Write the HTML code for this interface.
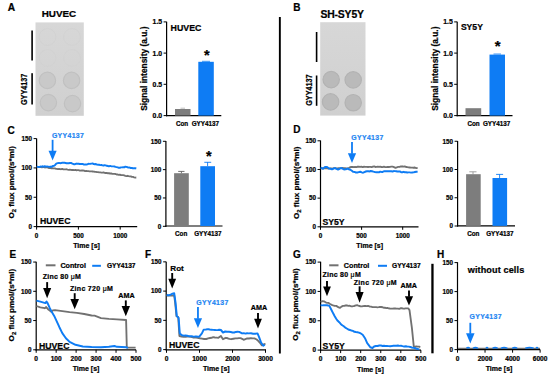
<!DOCTYPE html>
<html><head><meta charset="utf-8"><style>
html,body{margin:0;padding:0;background:#fff;width:550px;height:376px;overflow:hidden}
svg{display:block;font-family:"Liberation Sans", sans-serif}
text{stroke-width:0.22px}
</style></head><body>
<svg width="550" height="376" viewBox="0 0 550 376">
<defs><filter id="bl" x="-50%" y="-50%" width="200%" height="200%"><feGaussianBlur stdDeviation="0.65"/></filter>
<linearGradient id="blotg" x1="0" y1="0" x2="0" y2="1"><stop offset="0" stop-color="#d7d7d7"/><stop offset="1" stop-color="#d0d0d0"/></linearGradient></defs>
<rect width="550" height="376" fill="#fff"/>
<text x="7.8" y="11.2" font-size="10.2" text-anchor="start" fill="#000" stroke="#000" font-weight="bold">A</text>
<text x="41.8" y="17.3" font-size="9.9" text-anchor="start" fill="#000" stroke="#000" font-weight="bold" letter-spacing="-0.08">HUVEC</text>
<rect x="35.5" y="22.4" width="48.3" height="93.4" fill="url(#blotg)"/>
<circle cx="47.4" cy="80.4" r="8.2" fill="#c9c9c9" stroke="#c1c1c1" stroke-width="1.2" filter="url(#bl)"/>
<circle cx="71.6" cy="80.4" r="8.2" fill="#c9c9c9" stroke="#c1c1c1" stroke-width="1.2" filter="url(#bl)"/>
<circle cx="48.4" cy="102.6" r="8.2" fill="#c9c9c9" stroke="#c1c1c1" stroke-width="1.2" filter="url(#bl)"/>
<circle cx="72.5" cy="103.6" r="8.2" fill="#c9c9c9" stroke="#c1c1c1" stroke-width="1.2" filter="url(#bl)"/>
<circle cx="47.5" cy="37" r="8.4" fill="none" stroke="#d0d0d0" stroke-width="0.8" filter="url(#bl)"/>
<circle cx="72" cy="37" r="8.4" fill="none" stroke="#d0d0d0" stroke-width="0.8" filter="url(#bl)"/>
<circle cx="47.5" cy="58" r="8.4" fill="none" stroke="#d0d0d0" stroke-width="0.8" filter="url(#bl)"/>
<circle cx="72" cy="58" r="8.4" fill="none" stroke="#d0d0d0" stroke-width="0.8" filter="url(#bl)"/>
<rect x="31.3" y="30.5" width="1.6" height="30" fill="#000"/>
<rect x="31.3" y="73.2" width="1.6" height="31.3" fill="#000"/>
<text transform="translate(26.6 105) rotate(-90) scale(0.86 1)" font-size="8.4" font-weight="bold" stroke="#000">GYY4137</text>
<line x1="166.6" y1="21.7" x2="166.6" y2="116.19999999999999" stroke="#000" stroke-width="1.2" stroke-linecap="butt"/>
<line x1="163.6" y1="21.9" x2="166.6" y2="21.9" stroke="#000" stroke-width="1.0" stroke-linecap="butt"/>
<text x="162.2" y="24.370199999999997" font-size="6.9" text-anchor="end" fill="#000" stroke="#000" font-weight="bold">1.5</text>
<line x1="163.6" y1="53.1" x2="166.6" y2="53.1" stroke="#000" stroke-width="1.0" stroke-linecap="butt"/>
<text x="162.2" y="55.5702" font-size="6.9" text-anchor="end" fill="#000" stroke="#000" font-weight="bold">1.0</text>
<line x1="163.6" y1="84.3" x2="166.6" y2="84.3" stroke="#000" stroke-width="1.0" stroke-linecap="butt"/>
<text x="162.2" y="86.7702" font-size="6.9" text-anchor="end" fill="#000" stroke="#000" font-weight="bold">0.5</text>
<line x1="163.6" y1="115.6" x2="166.6" y2="115.6" stroke="#000" stroke-width="1.0" stroke-linecap="butt"/>
<text x="162.2" y="118.0702" font-size="6.9" text-anchor="end" fill="#000" stroke="#000" font-weight="bold">0.0</text>
<line x1="166.0" y1="115.6" x2="221.3" y2="115.6" stroke="#000" stroke-width="1.2" stroke-linecap="butt"/>
<text x="170.6" y="30.7" font-size="8.8" text-anchor="start" fill="#000" stroke="#000" font-weight="bold">HUVEC</text>
<rect x="175" y="109" width="15.5" height="6.6" fill="#7d7d7d"/>
<line x1="180.5" y1="108.2" x2="185" y2="108.2" stroke="#b0b0b0" stroke-width="0.8" stroke-linecap="butt"/>
<rect x="198.3" y="61.8" width="15.5" height="53.8" fill="#0e7cf4"/>
<line x1="202" y1="61.3" x2="210" y2="61.3" stroke="#0e7cf4" stroke-width="0.8" stroke-linecap="butt"/>
<text x="206.8" y="59.9" font-size="14.5" text-anchor="middle" fill="#000" stroke="#000" font-weight="bold">*</text>
<text x="182.1" y="125.8" font-size="6.3" text-anchor="middle" fill="#000" stroke="#000" font-weight="bold">Con</text>
<text x="205.3" y="125.8" font-size="6.3" text-anchor="middle" fill="#000" stroke="#000" font-weight="bold">GYY4137</text>
<text x="147.0" y="110.8" font-size="8.4" text-anchor="start" fill="#000" stroke="#000" font-weight="bold" transform="rotate(-90 147.0 110.8)">Signal intensity (a.u.)</text>
<rect x="278.9" y="17" width="1.9" height="336.5" fill="#000"/>
<text x="293.2" y="11.3" font-size="10" text-anchor="start" fill="#000" stroke="#000" font-weight="bold">B</text>
<text x="320.4" y="17.6" font-size="10.4" text-anchor="start" fill="#000" stroke="#000" font-weight="bold" letter-spacing="-0.15">SH-SY5Y</text>
<rect x="320.2" y="22.2" width="45.3" height="93.4" fill="url(#blotg)"/>
<circle cx="331.2" cy="79.6" r="8.2" fill="#bababa" stroke="#b3b3b3" stroke-width="1.2" filter="url(#bl)"/>
<circle cx="353.2" cy="79.9" r="8.2" fill="#bababa" stroke="#b3b3b3" stroke-width="1.2" filter="url(#bl)"/>
<circle cx="330.6" cy="101.9" r="8.2" fill="#bababa" stroke="#b3b3b3" stroke-width="1.2" filter="url(#bl)"/>
<circle cx="353.2" cy="102.7" r="8.2" fill="#bababa" stroke="#b3b3b3" stroke-width="1.2" filter="url(#bl)"/>
<rect x="315.8" y="32" width="1.6" height="30" fill="#000"/>
<rect x="315.8" y="75.5" width="1.6" height="30.3" fill="#000"/>
<text transform="translate(312.3 105.8) rotate(-90) scale(0.86 1)" font-size="8.4" font-weight="bold" stroke="#000">GYY4137</text>
<line x1="457.2" y1="21.7" x2="457.2" y2="116.19999999999999" stroke="#000" stroke-width="1.2" stroke-linecap="butt"/>
<line x1="454.2" y1="21.9" x2="457.2" y2="21.9" stroke="#000" stroke-width="1.0" stroke-linecap="butt"/>
<text x="452.8" y="24.370199999999997" font-size="6.9" text-anchor="end" fill="#000" stroke="#000" font-weight="bold">1.5</text>
<line x1="454.2" y1="53.1" x2="457.2" y2="53.1" stroke="#000" stroke-width="1.0" stroke-linecap="butt"/>
<text x="452.8" y="55.5702" font-size="6.9" text-anchor="end" fill="#000" stroke="#000" font-weight="bold">1.0</text>
<line x1="454.2" y1="84.3" x2="457.2" y2="84.3" stroke="#000" stroke-width="1.0" stroke-linecap="butt"/>
<text x="452.8" y="86.7702" font-size="6.9" text-anchor="end" fill="#000" stroke="#000" font-weight="bold">0.5</text>
<line x1="454.2" y1="115.6" x2="457.2" y2="115.6" stroke="#000" stroke-width="1.0" stroke-linecap="butt"/>
<text x="452.8" y="118.0702" font-size="6.9" text-anchor="end" fill="#000" stroke="#000" font-weight="bold">0.0</text>
<line x1="456.59999999999997" y1="115.6" x2="512.5" y2="115.6" stroke="#000" stroke-width="1.2" stroke-linecap="butt"/>
<text x="460.9" y="30.1" font-size="8.6" text-anchor="start" fill="#000" stroke="#000" font-weight="bold">SY5Y</text>
<rect x="465.5" y="108.2" width="15.7" height="7.4" fill="#7d7d7d"/>
<rect x="489.5" y="54.6" width="15.5" height="61" fill="#0e7cf4"/>
<line x1="493.5" y1="54" x2="501" y2="54" stroke="#0e7cf4" stroke-width="0.8" stroke-linecap="butt"/>
<text x="497.6" y="51.0" font-size="15" text-anchor="middle" fill="#000" stroke="#000" font-weight="bold">*</text>
<text x="473.6" y="126.0" font-size="6.3" text-anchor="middle" fill="#000" stroke="#000" font-weight="bold">Con</text>
<text x="496.6" y="126.0" font-size="6.3" text-anchor="middle" fill="#000" stroke="#000" font-weight="bold">GYY4137</text>
<text x="437.8" y="110.8" font-size="8.4" text-anchor="start" fill="#000" stroke="#000" font-weight="bold" transform="rotate(-90 437.8 110.8)">Signal intensity (a.u.)</text>
<text x="7.6" y="133.6" font-size="10" text-anchor="start" fill="#000" stroke="#000" font-weight="bold">C</text>
<line x1="36.6" y1="138.5" x2="36.6" y2="227.2" stroke="#000" stroke-width="1.2" stroke-linecap="butt"/>
<line x1="33.6" y1="138.595" x2="36.6" y2="138.595" stroke="#000" stroke-width="1.0" stroke-linecap="butt"/>
<text x="32.0" y="140.8504" font-size="6.3" text-anchor="end" fill="#000" stroke="#000" font-weight="bold">150</text>
<line x1="33.6" y1="167.93" x2="36.6" y2="167.93" stroke="#000" stroke-width="1.0" stroke-linecap="butt"/>
<text x="32.0" y="170.18540000000002" font-size="6.3" text-anchor="end" fill="#000" stroke="#000" font-weight="bold">100</text>
<line x1="33.6" y1="197.265" x2="36.6" y2="197.265" stroke="#000" stroke-width="1.0" stroke-linecap="butt"/>
<text x="32.0" y="199.5204" font-size="6.3" text-anchor="end" fill="#000" stroke="#000" font-weight="bold">50</text>
<line x1="33.6" y1="226.6" x2="36.6" y2="226.6" stroke="#000" stroke-width="1.0" stroke-linecap="butt"/>
<text x="32.0" y="228.8554" font-size="6.3" text-anchor="end" fill="#000" stroke="#000" font-weight="bold">0</text>
<line x1="36.0" y1="226.6" x2="137.2" y2="226.6" stroke="#000" stroke-width="1.2" stroke-linecap="butt"/>
<line x1="36.6" y1="226.6" x2="36.6" y2="229.6" stroke="#000" stroke-width="1.0" stroke-linecap="butt"/>
<text x="36.6" y="237.5" font-size="6.3" text-anchor="middle" fill="#000" stroke="#000" font-weight="bold">0</text>
<line x1="78.4" y1="226.6" x2="78.4" y2="229.6" stroke="#000" stroke-width="1.0" stroke-linecap="butt"/>
<text x="78.4" y="237.5" font-size="6.3" text-anchor="middle" fill="#000" stroke="#000" font-weight="bold">500</text>
<line x1="120.19999999999999" y1="226.6" x2="120.19999999999999" y2="229.6" stroke="#000" stroke-width="1.0" stroke-linecap="butt"/>
<text x="120.19999999999999" y="237.5" font-size="6.3" text-anchor="middle" fill="#000" stroke="#000" font-weight="bold">1000</text>
<text x="86.5" y="248.0" font-size="7.0" text-anchor="middle" fill="#000" stroke="#000" font-weight="bold">Time [s]</text>
<text x="40" y="224.4" font-size="8.7" text-anchor="start" fill="#000" stroke="#000" font-weight="bold">HUVEC</text>
<text x="14.0" y="218.6" font-size="8.1" font-weight="bold" stroke="#000" transform="rotate(-90 14.0 218.6)">O<tspan font-size="5.83" dy="2.27">2</tspan><tspan dy="-2.27"> flux pmol/(s*ml)</tspan></text>
<text x="51.9" y="137.5" font-size="6.9" text-anchor="start" fill="#1f86f2" stroke="#1f86f2" font-weight="bold" letter-spacing="0.35">GYY4137</text>
<path d="M52.6,139.8 L52.6,151.3" stroke="#0e7cf4" stroke-width="1.8" fill="none" stroke-linejoin="round"/>
<path d="M48.550000000000004,150.8 L56.65,150.8 L52.6,160.5 Z" fill="#0e7cf4"/>
<path d="M36.80,166.90 L37.81,166.82 L38.82,167.03 L39.83,167.00 L40.84,167.17 L41.86,167.24 L42.87,167.02 L43.88,167.05 L44.89,167.51 L45.90,167.40 L46.99,167.42 L48.08,167.55 L49.17,168.07 L50.26,167.95 L51.35,168.27 L52.44,168.23 L53.53,168.45 L54.62,168.35 L55.71,168.73 L56.80,168.80 L57.89,169.06 L58.98,168.97 L60.07,169.16 L61.16,169.21 L62.25,168.98 L63.34,169.41 L64.43,169.41 L65.52,169.34 L66.61,169.29 L67.70,169.60 L68.79,169.84 L69.88,169.71 L70.97,169.89 L72.06,170.03 L73.15,170.01 L74.24,170.17 L75.33,169.97 L76.42,170.23 L77.51,170.11 L78.60,170.20 L79.69,170.53 L80.78,170.61 L81.87,170.33 L82.96,170.46 L84.05,170.61 L85.14,171.09 L86.23,170.94 L87.32,171.14 L88.41,171.09 L89.50,171.30 L90.57,171.39 L91.63,171.41 L92.70,171.48 L93.77,171.68 L94.83,171.76 L95.90,171.80 L96.99,172.11 L98.08,172.11 L99.17,172.34 L100.26,172.42 L101.35,172.60 L102.44,172.55 L103.53,172.40 L104.62,172.86 L105.71,173.02 L106.80,172.90 L107.89,173.26 L108.98,173.25 L110.07,173.49 L111.16,173.40 L112.25,173.87 L113.34,173.90 L114.43,173.91 L115.52,173.96 L116.61,174.52 L117.70,174.50 L118.79,174.91 L119.88,174.63 L120.97,175.16 L122.06,175.14 L123.15,175.18 L124.24,175.42 L125.33,175.82 L126.42,176.05 L127.51,175.80 L128.60,176.20 L129.70,176.44 L130.80,176.34 L131.90,176.87 L133.00,176.86 L134.10,177.32 L135.20,177.55 L136.30,177.50" stroke="#717171" stroke-width="1.85" fill="none" stroke-linejoin="round"/>
<path d="M36.80,166.90 L37.97,166.83 L39.15,167.10 L40.33,166.54 L41.50,166.60 L42.60,166.30 L43.70,166.67 L44.80,166.27 L45.90,166.60 L47.00,166.45 L48.10,166.66 L49.20,166.86 L50.30,166.60 L51.40,166.90 L52.75,166.03 L54.10,165.80 L55.20,164.96 L56.30,163.60 L57.65,163.12 L59.00,162.90 L60.10,163.17 L61.20,163.08 L62.30,162.66 L63.40,162.70 L64.47,162.82 L65.55,163.01 L66.62,163.25 L67.70,163.30 L68.80,163.23 L69.90,163.07 L71.00,162.90 L72.35,163.63 L73.70,164.20 L75.05,164.21 L76.40,163.60 L77.50,163.70 L78.60,163.75 L79.70,164.05 L80.80,164.00 L81.90,163.92 L83.00,164.06 L84.10,164.63 L85.20,164.41 L86.30,164.50 L87.34,164.35 L88.38,163.80 L89.42,163.90 L90.46,163.84 L91.50,163.60 L92.60,163.45 L93.70,164.05 L94.80,164.24 L95.90,164.03 L97.00,164.61 L98.10,164.70 L99.19,164.81 L100.27,165.10 L101.36,165.01 L102.45,165.39 L103.54,165.55 L104.62,165.19 L105.71,165.35 L106.80,165.80 L107.90,166.02 L109.00,166.32 L110.10,165.93 L111.20,166.17 L112.30,166.36 L113.40,166.40 L114.48,166.55 L115.56,166.86 L116.64,167.11 L117.72,167.43 L118.80,167.80 L119.90,167.73 L121.00,167.39 L122.10,167.40 L123.17,167.19 L124.25,167.34 L125.33,166.69 L126.40,166.90 L127.50,167.22 L128.60,167.61 L129.70,167.59 L130.80,168.00 L131.90,167.91 L133.00,168.41 L134.10,168.12 L135.20,168.18 L136.30,168.50" stroke="#0e7cf4" stroke-width="1.95" fill="none" stroke-linejoin="round"/>
<line x1="165.9" y1="140.89999999999998" x2="165.9" y2="226.9" stroke="#000" stroke-width="1.2" stroke-linecap="butt"/>
<line x1="162.9" y1="141.29500000000002" x2="165.9" y2="141.29500000000002" stroke="#000" stroke-width="1.0" stroke-linecap="butt"/>
<text x="161.3" y="143.55040000000002" font-size="6.3" text-anchor="end" fill="#000" stroke="#000" font-weight="bold">150</text>
<line x1="162.9" y1="169.63" x2="165.9" y2="169.63" stroke="#000" stroke-width="1.0" stroke-linecap="butt"/>
<text x="161.3" y="171.8854" font-size="6.3" text-anchor="end" fill="#000" stroke="#000" font-weight="bold">100</text>
<line x1="162.9" y1="197.965" x2="165.9" y2="197.965" stroke="#000" stroke-width="1.0" stroke-linecap="butt"/>
<text x="161.3" y="200.2204" font-size="6.3" text-anchor="end" fill="#000" stroke="#000" font-weight="bold">50</text>
<line x1="162.9" y1="226.3" x2="165.9" y2="226.3" stroke="#000" stroke-width="1.0" stroke-linecap="butt"/>
<text x="161.3" y="228.55540000000002" font-size="6.3" text-anchor="end" fill="#000" stroke="#000" font-weight="bold">0</text>
<line x1="165.3" y1="226.0" x2="222.5" y2="226.0" stroke="#000" stroke-width="1.2" stroke-linecap="butt"/>
<rect x="174.1" y="173.2" width="14.7" height="52.8" fill="#7d7d7d"/>
<line x1="181.4" y1="171.4" x2="181.4" y2="173.2" stroke="#606060" stroke-width="0.9" stroke-linecap="butt"/>
<line x1="178.2" y1="171.4" x2="184.5" y2="171.4" stroke="#606060" stroke-width="0.9" stroke-linecap="butt"/>
<rect x="200.3" y="166.2" width="14.7" height="59.8" fill="#0e7cf4"/>
<line x1="207.6" y1="162.1" x2="207.6" y2="166.2" stroke="#0e7cf4" stroke-width="0.9" stroke-linecap="butt"/>
<line x1="204.3" y1="162.3" x2="211.2" y2="162.3" stroke="#0e7cf4" stroke-width="0.9" stroke-linecap="butt"/>
<text x="208.8" y="161.2" font-size="14.5" text-anchor="middle" fill="#000" stroke="#000" font-weight="bold">*</text>
<text x="181.2" y="236.2" font-size="6.3" text-anchor="middle" fill="#000" stroke="#000" font-weight="bold">Con</text>
<text x="207.8" y="236.2" font-size="6.3" text-anchor="middle" fill="#000" stroke="#000" font-weight="bold">GYY4137</text>
<text x="293.2" y="133.2" font-size="10" text-anchor="start" fill="#000" stroke="#000" font-weight="bold">D</text>
<line x1="320.5" y1="140.5" x2="320.5" y2="227.4" stroke="#000" stroke-width="1.2" stroke-linecap="butt"/>
<line x1="317.5" y1="140.805" x2="320.5" y2="140.805" stroke="#000" stroke-width="1.0" stroke-linecap="butt"/>
<text x="315.9" y="143.06040000000002" font-size="6.3" text-anchor="end" fill="#000" stroke="#000" font-weight="bold">150</text>
<line x1="317.5" y1="169.47" x2="320.5" y2="169.47" stroke="#000" stroke-width="1.0" stroke-linecap="butt"/>
<text x="315.9" y="171.7254" font-size="6.3" text-anchor="end" fill="#000" stroke="#000" font-weight="bold">100</text>
<line x1="317.5" y1="198.13500000000002" x2="320.5" y2="198.13500000000002" stroke="#000" stroke-width="1.0" stroke-linecap="butt"/>
<text x="315.9" y="200.39040000000003" font-size="6.3" text-anchor="end" fill="#000" stroke="#000" font-weight="bold">50</text>
<line x1="317.5" y1="226.8" x2="320.5" y2="226.8" stroke="#000" stroke-width="1.0" stroke-linecap="butt"/>
<text x="315.9" y="229.05540000000002" font-size="6.3" text-anchor="end" fill="#000" stroke="#000" font-weight="bold">0</text>
<line x1="319.9" y1="226.8" x2="418.5" y2="226.8" stroke="#000" stroke-width="1.2" stroke-linecap="butt"/>
<line x1="320.5" y1="226.8" x2="320.5" y2="229.8" stroke="#000" stroke-width="1.0" stroke-linecap="butt"/>
<text x="320.5" y="237.70000000000002" font-size="6.3" text-anchor="middle" fill="#000" stroke="#000" font-weight="bold">0</text>
<line x1="361.6" y1="226.8" x2="361.6" y2="229.8" stroke="#000" stroke-width="1.0" stroke-linecap="butt"/>
<text x="361.6" y="237.70000000000002" font-size="6.3" text-anchor="middle" fill="#000" stroke="#000" font-weight="bold">500</text>
<line x1="402.7" y1="226.8" x2="402.7" y2="229.8" stroke="#000" stroke-width="1.0" stroke-linecap="butt"/>
<text x="402.7" y="237.70000000000002" font-size="6.3" text-anchor="middle" fill="#000" stroke="#000" font-weight="bold">1000</text>
<text x="369.7" y="248.0" font-size="7.0" text-anchor="middle" fill="#000" stroke="#000" font-weight="bold">Time [s]</text>
<text x="322.4" y="224.9" font-size="8.7" text-anchor="start" fill="#000" stroke="#000" font-weight="bold">SY5Y</text>
<text x="298.5" y="219.0" font-size="8.1" font-weight="bold" stroke="#000" transform="rotate(-90 298.5 219.0)">O<tspan font-size="5.83" dy="2.27">2</tspan><tspan dy="-2.27"> flux pmol/(s*ml)</tspan></text>
<text x="351.3" y="140" font-size="6.9" text-anchor="start" fill="#1f86f2" stroke="#1f86f2" font-weight="bold" letter-spacing="0.35">GYY4137</text>
<path d="M352.0,142.1 L352.0,153.70000000000002" stroke="#0e7cf4" stroke-width="1.8" fill="none" stroke-linejoin="round"/>
<path d="M347.9,153.20000000000002 L356.1,153.20000000000002 L352.0,162.9 Z" fill="#0e7cf4"/>
<path d="M320.70,168.30 L322.03,168.28 L323.36,168.45 L324.69,168.10 L326.01,168.25 L327.34,168.27 L328.67,168.59 L330.00,168.40 L331.25,168.34 L332.50,168.56 L333.75,168.13 L335.00,168.20 L336.25,168.37 L337.50,168.48 L338.75,168.20 L340.00,168.20 L341.23,168.05 L342.47,168.01 L343.70,168.27 L344.93,168.08 L346.17,168.47 L347.40,168.30 L348.73,168.07 L350.07,167.24 L351.40,167.00 L352.63,166.84 L353.86,167.13 L355.09,167.00 L356.31,167.07 L357.54,166.76 L358.77,166.61 L360.00,166.80 L361.33,166.71 L362.67,167.04 L364.00,166.76 L365.33,166.84 L366.67,166.92 L368.00,167.00 L369.23,166.90 L370.45,166.85 L371.68,167.10 L372.90,166.59 L374.12,166.45 L375.35,166.97 L376.57,166.88 L377.80,166.60 L379.03,166.94 L380.25,166.66 L381.48,167.02 L382.70,167.06 L383.93,166.68 L385.15,167.05 L386.38,167.15 L387.60,167.00 L388.83,167.00 L390.05,166.81 L391.27,166.57 L392.50,166.60 L394.00,167.10 L395.50,167.80 L396.86,167.34 L398.22,166.94 L399.58,166.95 L400.94,166.47 L402.30,166.30 L403.54,166.65 L404.77,166.35 L406.01,167.03 L407.25,167.07 L408.49,167.37 L409.73,167.51 L410.96,167.68 L412.20,167.60 L413.55,167.75 L414.90,167.51 L416.25,168.05 L417.60,168.00" stroke="#717171" stroke-width="1.85" fill="none" stroke-linejoin="round"/>
<path d="M320.70,167.50 L323.00,168.80 L325.00,167.00 L327.00,166.90 L329.00,168.60 L330.50,168.72 L332.00,169.30 L333.50,168.56 L335.00,168.10 L336.50,168.96 L338.00,169.60 L339.50,168.82 L341.00,168.00 L342.50,168.69 L344.00,169.50 L345.70,169.36 L347.40,168.60 L348.90,169.23 L350.40,169.70 L351.85,170.69 L353.30,171.90 L354.63,171.93 L355.97,172.55 L357.30,172.50 L358.75,172.08 L360.20,171.70 L361.65,172.40 L363.10,172.70 L364.43,172.10 L365.77,171.49 L367.10,171.20 L368.33,171.22 L369.55,171.42 L370.77,170.97 L372.00,171.20 L373.45,171.65 L374.90,172.00 L376.35,172.16 L377.80,172.20 L379.03,172.30 L380.25,171.61 L381.48,171.92 L382.70,171.95 L383.93,171.26 L385.15,171.29 L386.38,171.16 L387.60,171.20 L388.83,171.26 L390.05,171.22 L391.27,171.29 L392.50,171.54 L393.73,171.04 L394.95,171.11 L396.17,171.20 L397.40,171.50 L398.64,171.36 L399.88,171.45 L401.11,172.21 L402.35,172.25 L403.59,171.84 L404.82,172.25 L406.06,172.25 L407.30,172.50 L408.52,172.37 L409.75,172.40 L410.98,172.60 L412.20,172.50 L413.55,172.36 L414.90,172.00 L416.25,171.68 L417.60,171.70" stroke="#0e7cf4" stroke-width="1.95" fill="none" stroke-linejoin="round"/>
<line x1="457.6" y1="140.89999999999998" x2="457.6" y2="226.6" stroke="#000" stroke-width="1.2" stroke-linecap="butt"/>
<line x1="454.6" y1="141.25" x2="457.6" y2="141.25" stroke="#000" stroke-width="1.0" stroke-linecap="butt"/>
<text x="453.0" y="143.5054" font-size="6.3" text-anchor="end" fill="#000" stroke="#000" font-weight="bold">150</text>
<line x1="454.6" y1="169.5" x2="457.6" y2="169.5" stroke="#000" stroke-width="1.0" stroke-linecap="butt"/>
<text x="453.0" y="171.7554" font-size="6.3" text-anchor="end" fill="#000" stroke="#000" font-weight="bold">100</text>
<line x1="454.6" y1="197.75" x2="457.6" y2="197.75" stroke="#000" stroke-width="1.0" stroke-linecap="butt"/>
<text x="453.0" y="200.0054" font-size="6.3" text-anchor="end" fill="#000" stroke="#000" font-weight="bold">50</text>
<line x1="454.6" y1="226.0" x2="457.6" y2="226.0" stroke="#000" stroke-width="1.0" stroke-linecap="butt"/>
<text x="453.0" y="228.2554" font-size="6.3" text-anchor="end" fill="#000" stroke="#000" font-weight="bold">0</text>
<line x1="457.0" y1="225.9" x2="515" y2="225.9" stroke="#000" stroke-width="1.2" stroke-linecap="butt"/>
<rect x="466.1" y="174.2" width="14.6" height="51.7" fill="#7d7d7d"/>
<line x1="473.0" y1="171.8" x2="473.0" y2="174.2" stroke="#8a8a8a" stroke-width="0.8" stroke-linecap="butt"/>
<line x1="469.3" y1="171.8" x2="476.5" y2="171.8" stroke="#8a8a8a" stroke-width="0.8" stroke-linecap="butt"/>
<rect x="492.5" y="178.0" width="14.6" height="47.9" fill="#0e7cf4"/>
<line x1="499.6" y1="174.4" x2="499.6" y2="178" stroke="#0e7cf4" stroke-width="0.9" stroke-linecap="butt"/>
<line x1="496.1" y1="174.4" x2="503.1" y2="174.4" stroke="#0e7cf4" stroke-width="0.9" stroke-linecap="butt"/>
<text x="473.3" y="236.2" font-size="6.3" text-anchor="middle" fill="#000" stroke="#000" font-weight="bold">Con</text>
<text x="499.8" y="236.2" font-size="6.3" text-anchor="middle" fill="#000" stroke="#000" font-weight="bold">GYY4137</text>
<text x="9.5" y="257.6" font-size="10" text-anchor="start" fill="#000" stroke="#000" font-weight="bold">E</text>
<line x1="36.2" y1="261.7" x2="36.2" y2="350.40000000000003" stroke="#000" stroke-width="1.2" stroke-linecap="butt"/>
<line x1="33.2" y1="262.05" x2="36.2" y2="262.05" stroke="#000" stroke-width="1.0" stroke-linecap="butt"/>
<text x="31.6" y="264.3054" font-size="6.3" text-anchor="end" fill="#000" stroke="#000" font-weight="bold">150</text>
<line x1="33.2" y1="291.3" x2="36.2" y2="291.3" stroke="#000" stroke-width="1.0" stroke-linecap="butt"/>
<text x="31.6" y="293.5554" font-size="6.3" text-anchor="end" fill="#000" stroke="#000" font-weight="bold">100</text>
<line x1="33.2" y1="320.55" x2="36.2" y2="320.55" stroke="#000" stroke-width="1.0" stroke-linecap="butt"/>
<text x="31.6" y="322.8054" font-size="6.3" text-anchor="end" fill="#000" stroke="#000" font-weight="bold">50</text>
<line x1="33.2" y1="349.8" x2="36.2" y2="349.8" stroke="#000" stroke-width="1.0" stroke-linecap="butt"/>
<text x="31.6" y="352.0554" font-size="6.3" text-anchor="end" fill="#000" stroke="#000" font-weight="bold">0</text>
<line x1="35.6" y1="349.8" x2="136.0" y2="349.8" stroke="#000" stroke-width="1.2" stroke-linecap="butt"/>
<line x1="36.2" y1="349.8" x2="36.2" y2="352.8" stroke="#000" stroke-width="1.0" stroke-linecap="butt"/>
<text x="36.2" y="361.0" font-size="6.6" text-anchor="middle" fill="#000" stroke="#000" font-weight="bold">0</text>
<line x1="56.160000000000004" y1="349.8" x2="56.160000000000004" y2="352.8" stroke="#000" stroke-width="1.0" stroke-linecap="butt"/>
<text x="56.160000000000004" y="361.0" font-size="6.6" text-anchor="middle" fill="#000" stroke="#000" font-weight="bold">100</text>
<line x1="76.12" y1="349.8" x2="76.12" y2="352.8" stroke="#000" stroke-width="1.0" stroke-linecap="butt"/>
<text x="76.12" y="361.0" font-size="6.6" text-anchor="middle" fill="#000" stroke="#000" font-weight="bold">200</text>
<line x1="96.08000000000001" y1="349.8" x2="96.08000000000001" y2="352.8" stroke="#000" stroke-width="1.0" stroke-linecap="butt"/>
<text x="96.08000000000001" y="361.0" font-size="6.6" text-anchor="middle" fill="#000" stroke="#000" font-weight="bold">300</text>
<line x1="116.04" y1="349.8" x2="116.04" y2="352.8" stroke="#000" stroke-width="1.0" stroke-linecap="butt"/>
<text x="116.04" y="361.0" font-size="6.6" text-anchor="middle" fill="#000" stroke="#000" font-weight="bold">400</text>
<line x1="136.0" y1="349.8" x2="136.0" y2="352.8" stroke="#000" stroke-width="1.0" stroke-linecap="butt"/>
<text x="136.0" y="361.0" font-size="6.6" text-anchor="middle" fill="#000" stroke="#000" font-weight="bold">500</text>
<text x="86.0" y="371.4" font-size="7.0" text-anchor="middle" fill="#000" stroke="#000" font-weight="bold">Time [s]</text>
<text x="39.0" y="348.5" font-size="8.7" text-anchor="start" fill="#000" stroke="#000" font-weight="bold">HUVEC</text>
<text x="13.9" y="341.4" font-size="8.1" font-weight="bold" stroke="#000" transform="rotate(-90 13.9 341.4)">O<tspan font-size="5.83" dy="2.27">2</tspan><tspan dy="-2.27"> flux pmol/(s*ml)</tspan></text>
<line x1="45.8" y1="265.3" x2="55.5" y2="265.3" stroke="#717171" stroke-width="2.0" stroke-linecap="butt"/>
<text x="60.4" y="267.6" font-size="7.2" text-anchor="start" fill="#000" stroke="#000" font-weight="bold">Control</text>
<line x1="92.2" y1="265.8" x2="100.9" y2="265.8" stroke="#0e7cf4" stroke-width="2.0" stroke-linecap="butt"/>
<text x="106.9" y="268.3" font-size="6.6" text-anchor="start" fill="#000" stroke="#000" font-weight="bold">GYY4137</text>
<text x="42.7" y="279.0" font-size="7.0" text-anchor="start" fill="#000" stroke="#000" font-weight="bold" letter-spacing="0.25">Zinc 80 <tspan font-weight="normal">μ</tspan>M</text>
<path d="M47.15,282.1 L47.15,288.4" stroke="#000" stroke-width="1.9" fill="none" stroke-linejoin="round"/>
<path d="M43.1,287.9 L51.199999999999996,287.9 L47.15,298.2 Z" fill="#000"/>
<text x="70" y="291.1" font-size="7.0" text-anchor="start" fill="#000" stroke="#000" font-weight="bold" letter-spacing="0.3">Zinc 720 <tspan font-weight="normal">μ</tspan>M</text>
<path d="M74.7,293.2 L74.7,299.6" stroke="#000" stroke-width="1.9" fill="none" stroke-linejoin="round"/>
<path d="M70.4,299.1 L79.0,299.1 L74.7,309.3 Z" fill="#000"/>
<text x="126.4" y="297.6" font-size="7.2" text-anchor="middle" fill="#000" stroke="#000" font-weight="bold">AMA</text>
<path d="M125.8,300.4 L125.8,306.4" stroke="#000" stroke-width="1.9" fill="none" stroke-linejoin="round"/>
<path d="M121.6,305.9 L130.0,305.9 L125.8,316.2 Z" fill="#000"/>
<path d="M36.40,306.00 L40.30,307.40 L44.70,308.20 L46.20,307.00 L48.40,309.60 L51.30,311.80 L52.80,310.40 L55.00,310.10 L62.30,311.10 L69.60,312.10 L76.90,312.90 L84.20,314.00 L91.60,315.50 L94.60,315.70 L101.00,318.10 L108.90,318.90 L116.90,319.40 L126.10,320.00 L126.80,347.60 L135.60,347.60" stroke="#717171" stroke-width="1.85" fill="none" stroke-linejoin="round"/>
<path d="M36.40,300.60 L40.30,301.60 L45.40,303.10 L46.50,301.60 L47.60,303.10 L49.80,308.20 L52.00,312.30 L54.20,315.90 L56.40,320.60 L59.40,327.20 L62.30,333.10 L65.90,338.20 L69.60,341.90 L75.50,344.80 L82.80,346.50 L91.60,347.00 L101.00,347.20 L108.90,346.80 L114.50,346.00 L116.90,346.80 L126.50,347.30 L128.00,347.80" stroke="#0e7cf4" stroke-width="1.95" fill="none" stroke-linejoin="round"/>
<text x="145.0" y="258.0" font-size="10" text-anchor="start" fill="#000" stroke="#000" font-weight="bold">F</text>
<line x1="166.2" y1="261.7" x2="166.2" y2="350.20000000000005" stroke="#000" stroke-width="1.2" stroke-linecap="butt"/>
<line x1="163.2" y1="261.85" x2="166.2" y2="261.85" stroke="#000" stroke-width="1.0" stroke-linecap="butt"/>
<text x="161.6" y="264.10540000000003" font-size="6.3" text-anchor="end" fill="#000" stroke="#000" font-weight="bold">150</text>
<line x1="163.2" y1="291.1" x2="166.2" y2="291.1" stroke="#000" stroke-width="1.0" stroke-linecap="butt"/>
<text x="161.6" y="293.35540000000003" font-size="6.3" text-anchor="end" fill="#000" stroke="#000" font-weight="bold">100</text>
<line x1="163.2" y1="320.35" x2="166.2" y2="320.35" stroke="#000" stroke-width="1.0" stroke-linecap="butt"/>
<text x="161.6" y="322.60540000000003" font-size="6.3" text-anchor="end" fill="#000" stroke="#000" font-weight="bold">50</text>
<line x1="163.2" y1="349.6" x2="166.2" y2="349.6" stroke="#000" stroke-width="1.0" stroke-linecap="butt"/>
<text x="161.6" y="351.85540000000003" font-size="6.3" text-anchor="end" fill="#000" stroke="#000" font-weight="bold">0</text>
<line x1="165.6" y1="349.8" x2="266.0" y2="349.8" stroke="#000" stroke-width="1.2" stroke-linecap="butt"/>
<line x1="166.5" y1="349.8" x2="166.5" y2="352.8" stroke="#000" stroke-width="1.0" stroke-linecap="butt"/>
<text x="166.5" y="361.0" font-size="6.6" text-anchor="middle" fill="#000" stroke="#000" font-weight="bold">0</text>
<line x1="199.5" y1="349.8" x2="199.5" y2="352.8" stroke="#000" stroke-width="1.0" stroke-linecap="butt"/>
<text x="199.5" y="361.0" font-size="6.6" text-anchor="middle" fill="#000" stroke="#000" font-weight="bold">1000</text>
<line x1="232.5" y1="349.8" x2="232.5" y2="352.8" stroke="#000" stroke-width="1.0" stroke-linecap="butt"/>
<text x="232.5" y="361.0" font-size="6.6" text-anchor="middle" fill="#000" stroke="#000" font-weight="bold">2000</text>
<line x1="265.5" y1="349.8" x2="265.5" y2="352.8" stroke="#000" stroke-width="1.0" stroke-linecap="butt"/>
<text x="265.5" y="361.0" font-size="6.6" text-anchor="middle" fill="#000" stroke="#000" font-weight="bold">3000</text>
<text x="216.3" y="371.4" font-size="7.0" text-anchor="middle" fill="#000" stroke="#000" font-weight="bold">Time [s]</text>
<text x="169.0" y="348.3" font-size="8.7" text-anchor="start" fill="#000" stroke="#000" font-weight="bold">HUVEC</text>
<text x="170.3" y="270.8" font-size="8.1" text-anchor="start" fill="#000" stroke="#000" font-weight="bold">Rot</text>
<path d="M172.2,273.0 L172.2,279.3" stroke="#000" stroke-width="1.9" fill="none" stroke-linejoin="round"/>
<path d="M168.29999999999998,278.8 L176.1,278.8 L172.2,288.5 Z" fill="#000"/>
<text x="196.3" y="305.0" font-size="6.9" text-anchor="start" fill="#1f86f2" stroke="#1f86f2" font-weight="bold" letter-spacing="0.35">GYY4137</text>
<path d="M197.95,306.9 L197.95,318.7" stroke="#0e7cf4" stroke-width="1.8" fill="none" stroke-linejoin="round"/>
<path d="M193.85,318.2 L202.04999999999998,318.2 L197.95,327.9 Z" fill="#0e7cf4"/>
<text x="258.9" y="310.0" font-size="7.2" text-anchor="middle" fill="#000" stroke="#000" font-weight="bold">AMA</text>
<path d="M258.0,313.1 L258.0,319.3" stroke="#000" stroke-width="1.9" fill="none" stroke-linejoin="round"/>
<path d="M254.1,318.8 L261.9,318.8 L258.0,328.5 Z" fill="#000"/>
<path d="M166.70,295.70 L168.47,295.60 L170.23,295.47 L172.00,295.70 L174.20,295.40 L175.10,302.30 L176.50,316.10 L178.20,317.00 L179.40,336.00 L181.60,336.48 L183.80,336.90 L185.53,336.93 L187.27,336.63 L189.00,336.60 L191.00,336.80 L193.00,337.50 L194.53,337.41 L196.07,337.62 L197.60,337.80 L199.80,338.26 L202.00,338.60 L204.15,338.97 L206.30,339.00 L208.15,338.43 L210.00,338.00 L211.60,337.78 L213.20,337.20 L214.93,337.47 L216.67,337.56 L218.40,337.80 L220.90,335.90 L223.00,339.20 L224.50,338.42 L226.00,337.80 L227.70,338.26 L229.40,338.86 L231.10,339.20 L233.30,338.75 L235.50,338.40 L237.20,338.42 L238.90,338.18 L240.60,338.10 L242.10,338.80 L243.60,339.80 L245.40,339.12 L247.20,338.40 L249.02,338.52 L250.85,338.14 L252.68,338.35 L254.50,338.40 L256.70,339.50 L258.20,340.96 L259.70,342.50 L261.90,345.40 L264.00,344.20 L265.50,343.90" stroke="#717171" stroke-width="1.85" fill="none" stroke-linejoin="round"/>
<path d="M166.70,295.00 L168.30,295.23 L169.90,295.00 L172.50,293.70 L174.20,293.30 L175.50,302.30 L176.80,316.10 L178.60,317.90 L179.80,333.40 L182.00,335.20 L183.73,335.63 L185.47,335.46 L187.20,335.70 L188.72,336.16 L190.25,336.32 L191.78,336.23 L193.30,336.60 L194.80,336.58 L196.30,336.37 L197.80,336.79 L199.30,336.60 L201.90,333.40 L203.70,329.60 L205.85,329.45 L208.00,329.10 L209.72,329.56 L211.45,329.73 L213.18,329.88 L214.90,330.00 L216.40,330.14 L217.90,330.04 L219.40,329.76 L220.90,330.00 L223.00,332.50 L225.20,331.50 L227.05,331.80 L228.90,331.70 L230.75,332.04 L232.60,332.50 L234.25,332.51 L235.90,331.93 L237.55,331.81 L239.20,331.90 L242.10,333.40 L243.75,333.16 L245.40,333.63 L247.05,333.21 L248.70,333.40 L250.90,333.26 L253.10,333.70 L255.30,333.75 L257.50,333.40 L258.90,336.60 L261.10,342.50 L263.30,345.70 L264.80,344.70" stroke="#0e7cf4" stroke-width="1.95" fill="none" stroke-linejoin="round"/>
<text x="293.0" y="258.0" font-size="10" text-anchor="start" fill="#000" stroke="#000" font-weight="bold">G</text>
<line x1="320.6" y1="261.7" x2="320.6" y2="350.70000000000005" stroke="#000" stroke-width="1.2" stroke-linecap="butt"/>
<line x1="317.6" y1="262.095" x2="320.6" y2="262.095" stroke="#000" stroke-width="1.0" stroke-linecap="butt"/>
<text x="316.0" y="264.35040000000004" font-size="6.3" text-anchor="end" fill="#000" stroke="#000" font-weight="bold">150</text>
<line x1="317.6" y1="291.43" x2="320.6" y2="291.43" stroke="#000" stroke-width="1.0" stroke-linecap="butt"/>
<text x="316.0" y="293.6854" font-size="6.3" text-anchor="end" fill="#000" stroke="#000" font-weight="bold">100</text>
<line x1="317.6" y1="320.76500000000004" x2="320.6" y2="320.76500000000004" stroke="#000" stroke-width="1.0" stroke-linecap="butt"/>
<text x="316.0" y="323.02040000000005" font-size="6.3" text-anchor="end" fill="#000" stroke="#000" font-weight="bold">50</text>
<line x1="317.6" y1="350.1" x2="320.6" y2="350.1" stroke="#000" stroke-width="1.0" stroke-linecap="butt"/>
<text x="316.0" y="352.35540000000003" font-size="6.3" text-anchor="end" fill="#000" stroke="#000" font-weight="bold">0</text>
<line x1="320.0" y1="350.1" x2="421.0" y2="350.1" stroke="#000" stroke-width="1.2" stroke-linecap="butt"/>
<line x1="320.6" y1="350.1" x2="320.6" y2="353.1" stroke="#000" stroke-width="1.0" stroke-linecap="butt"/>
<text x="320.6" y="361.3" font-size="6.6" text-anchor="middle" fill="#000" stroke="#000" font-weight="bold">0</text>
<line x1="340.65000000000003" y1="350.1" x2="340.65000000000003" y2="353.1" stroke="#000" stroke-width="1.0" stroke-linecap="butt"/>
<text x="340.65000000000003" y="361.3" font-size="6.6" text-anchor="middle" fill="#000" stroke="#000" font-weight="bold">100</text>
<line x1="360.70000000000005" y1="350.1" x2="360.70000000000005" y2="353.1" stroke="#000" stroke-width="1.0" stroke-linecap="butt"/>
<text x="360.70000000000005" y="361.3" font-size="6.6" text-anchor="middle" fill="#000" stroke="#000" font-weight="bold">200</text>
<line x1="380.75" y1="350.1" x2="380.75" y2="353.1" stroke="#000" stroke-width="1.0" stroke-linecap="butt"/>
<text x="380.75" y="361.3" font-size="6.6" text-anchor="middle" fill="#000" stroke="#000" font-weight="bold">300</text>
<line x1="400.8" y1="350.1" x2="400.8" y2="353.1" stroke="#000" stroke-width="1.0" stroke-linecap="butt"/>
<text x="400.8" y="361.3" font-size="6.6" text-anchor="middle" fill="#000" stroke="#000" font-weight="bold">400</text>
<line x1="420.85" y1="350.1" x2="420.85" y2="353.1" stroke="#000" stroke-width="1.0" stroke-linecap="butt"/>
<text x="420.85" y="361.3" font-size="6.6" text-anchor="middle" fill="#000" stroke="#000" font-weight="bold">500</text>
<text x="370.4" y="372.0" font-size="7.0" text-anchor="middle" fill="#000" stroke="#000" font-weight="bold">Time [s]</text>
<text x="322.6" y="348.8" font-size="8.7" text-anchor="start" fill="#000" stroke="#000" font-weight="bold">SY5Y</text>
<text x="298.1" y="340.8" font-size="8.1" font-weight="bold" stroke="#000" transform="rotate(-90 298.1 340.8)">O<tspan font-size="5.83" dy="2.27">2</tspan><tspan dy="-2.27"> flux pmol/(s*ml)</tspan></text>
<line x1="329.2" y1="265.3" x2="338.5" y2="265.3" stroke="#717171" stroke-width="2.0" stroke-linecap="butt"/>
<text x="343.8" y="267.6" font-size="7.2" text-anchor="start" fill="#000" stroke="#000" font-weight="bold">Control</text>
<line x1="378" y1="265.8" x2="387" y2="265.8" stroke="#0e7cf4" stroke-width="2.0" stroke-linecap="butt"/>
<text x="392" y="268.3" font-size="6.6" text-anchor="start" fill="#000" stroke="#000" font-weight="bold">GYY4137</text>
<text x="322.5" y="276.8" font-size="7.0" text-anchor="start" fill="#000" stroke="#000" font-weight="bold" letter-spacing="0.25">Zinc 80 <tspan font-weight="normal">μ</tspan>M</text>
<path d="M327.0,281.0 L327.0,287.0" stroke="#000" stroke-width="1.9" fill="none" stroke-linejoin="round"/>
<path d="M323.1,286.5 L330.9,286.5 L327.0,296.2 Z" fill="#000"/>
<text x="353.8" y="285.0" font-size="7.0" text-anchor="start" fill="#000" stroke="#000" font-weight="bold" letter-spacing="0.3">Zinc 720 <tspan font-weight="normal">μ</tspan>M</text>
<path d="M359.6,286.3 L359.6,292.4" stroke="#000" stroke-width="1.9" fill="none" stroke-linejoin="round"/>
<path d="M355.55,291.9 L363.65000000000003,291.9 L359.6,302.7 Z" fill="#000"/>
<text x="408.8" y="288.2" font-size="7.2" text-anchor="middle" fill="#000" stroke="#000" font-weight="bold">AMA</text>
<path d="M409.0,290.4 L409.0,296.70000000000005" stroke="#000" stroke-width="1.9" fill="none" stroke-linejoin="round"/>
<path d="M404.9,296.20000000000005 L413.1,296.20000000000005 L409.0,305.6 Z" fill="#000"/>
<path d="M320.60,301.80 L322.50,301.10 L324.05,301.43 L325.60,302.30 L327.10,302.84 L328.60,302.90 L330.10,303.97 L331.60,304.80 L333.13,305.40 L334.67,305.85 L336.20,305.90 L337.47,306.62 L338.73,307.44 L340.00,307.90 L341.50,306.58 L343.00,305.90 L344.27,305.89 L345.53,305.51 L346.80,305.30 L348.30,305.82 L349.80,305.76 L351.30,306.40 L352.83,306.21 L354.37,305.97 L355.90,305.30 L357.10,305.21 L358.30,305.62 L359.50,306.00 L360.70,306.41 L361.90,306.40 L363.12,306.12 L364.34,305.98 L365.56,305.92 L366.78,306.08 L368.00,305.90 L369.50,306.48 L371.00,306.63 L372.50,307.10 L373.73,307.06 L374.95,307.13 L376.17,307.15 L377.40,307.30 L378.67,307.14 L379.93,306.81 L381.20,307.00 L382.43,307.22 L383.67,307.76 L384.90,307.59 L386.13,308.04 L387.37,307.85 L388.60,308.30 L389.93,308.48 L391.26,308.56 L392.59,308.55 L393.91,308.48 L395.24,308.50 L396.57,308.66 L397.90,308.60 L399.19,308.84 L400.47,308.28 L401.76,308.20 L403.05,308.62 L404.34,308.70 L405.62,308.39 L406.91,308.30 L408.20,308.30 L409.50,310.10 L411.90,327.80 L413.80,346.50 L415.10,346.75 L416.40,346.48 L417.70,346.64 L419.00,346.69 L420.30,347.00" stroke="#717171" stroke-width="1.85" fill="none" stroke-linejoin="round"/>
<path d="M320.60,305.30 L322.23,305.35 L323.85,305.19 L325.48,305.14 L327.10,305.30 L329.40,305.90 L331.60,310.20 L333.15,313.31 L334.70,316.20 L336.20,318.77 L337.70,320.80 L339.20,322.18 L340.70,323.92 L342.20,325.30 L343.73,326.30 L345.25,327.61 L346.77,328.50 L348.30,329.50 L349.82,329.94 L351.35,330.48 L352.88,330.94 L354.40,331.80 L355.90,332.05 L357.40,332.26 L358.90,332.60 L360.80,333.45 L362.70,334.70 L365.00,338.20 L367.20,343.20 L368.75,345.17 L370.30,347.30 L372.50,348.00 L374.10,346.50 L375.83,346.06 L377.57,346.00 L379.30,345.50 L380.85,345.39 L382.40,345.99 L383.95,345.79 L385.50,345.96 L387.05,345.98 L388.60,346.10 L390.15,346.20 L391.70,346.09 L393.25,345.83 L394.80,345.69 L396.35,345.73 L397.90,345.50 L399.45,345.88 L401.00,345.77 L402.55,346.14 L404.10,346.44 L405.65,346.31 L407.20,346.50 L408.70,346.64 L410.20,346.94 L411.70,347.53 L413.20,347.81 L414.70,348.00 L416.23,348.68 L417.77,349.01 L419.30,349.20" stroke="#0e7cf4" stroke-width="1.95" fill="none" stroke-linejoin="round"/>
<rect x="431.3" y="263.8" width="2.3" height="89.5" fill="#000"/>
<text x="437.0" y="257.6" font-size="10" text-anchor="start" fill="#000" stroke="#000" font-weight="bold">H</text>
<line x1="457.5" y1="262.2" x2="457.5" y2="350.20000000000005" stroke="#000" stroke-width="1.2" stroke-linecap="butt"/>
<line x1="454.5" y1="262.6" x2="457.5" y2="262.6" stroke="#000" stroke-width="1.0" stroke-linecap="butt"/>
<text x="452.9" y="264.85540000000003" font-size="6.3" text-anchor="end" fill="#000" stroke="#000" font-weight="bold">150</text>
<line x1="454.5" y1="291.6" x2="457.5" y2="291.6" stroke="#000" stroke-width="1.0" stroke-linecap="butt"/>
<text x="452.9" y="293.85540000000003" font-size="6.3" text-anchor="end" fill="#000" stroke="#000" font-weight="bold">100</text>
<line x1="454.5" y1="320.6" x2="457.5" y2="320.6" stroke="#000" stroke-width="1.0" stroke-linecap="butt"/>
<text x="452.9" y="322.85540000000003" font-size="6.3" text-anchor="end" fill="#000" stroke="#000" font-weight="bold">50</text>
<line x1="454.5" y1="349.6" x2="457.5" y2="349.6" stroke="#000" stroke-width="1.0" stroke-linecap="butt"/>
<text x="452.9" y="351.85540000000003" font-size="6.3" text-anchor="end" fill="#000" stroke="#000" font-weight="bold">0</text>
<line x1="456.9" y1="349.7" x2="540.2" y2="349.7" stroke="#000" stroke-width="1.2" stroke-linecap="butt"/>
<line x1="457.5" y1="349.7" x2="457.5" y2="352.7" stroke="#000" stroke-width="1.0" stroke-linecap="butt"/>
<text x="457.5" y="360.9" font-size="6.6" text-anchor="middle" fill="#000" stroke="#000" font-weight="bold">0</text>
<line x1="485.04" y1="349.7" x2="485.04" y2="352.7" stroke="#000" stroke-width="1.0" stroke-linecap="butt"/>
<text x="485.04" y="360.9" font-size="6.6" text-anchor="middle" fill="#000" stroke="#000" font-weight="bold">2000</text>
<line x1="512.58" y1="349.7" x2="512.58" y2="352.7" stroke="#000" stroke-width="1.0" stroke-linecap="butt"/>
<text x="512.58" y="360.9" font-size="6.6" text-anchor="middle" fill="#000" stroke="#000" font-weight="bold">4000</text>
<line x1="540.12" y1="349.7" x2="540.12" y2="352.7" stroke="#000" stroke-width="1.0" stroke-linecap="butt"/>
<text x="540.12" y="360.9" font-size="6.6" text-anchor="middle" fill="#000" stroke="#000" font-weight="bold">6000</text>
<text x="499.0" y="370.6" font-size="7.0" text-anchor="middle" fill="#000" stroke="#000" font-weight="bold">Time [s]</text>
<text x="467.7" y="272.6" font-size="9.1" text-anchor="start" fill="#000" stroke="#000" font-weight="bold" letter-spacing="0.12">without cells</text>
<text x="469.5" y="319.3" font-size="6.9" text-anchor="start" fill="#1f86f2" stroke="#1f86f2" font-weight="bold" letter-spacing="0.35">GYY4137</text>
<path d="M470.3,322.8 L470.3,333.70000000000005" stroke="#0e7cf4" stroke-width="1.8" fill="none" stroke-linejoin="round"/>
<path d="M466.05,333.20000000000005 L474.55,333.20000000000005 L470.3,343.6 Z" fill="#0e7cf4"/>
<path d="M458.00,348.40 L540.00,348.40" stroke="#717171" stroke-width="1.3" fill="none" stroke-linejoin="round"/>
<path d="M466.5,348.3 Q468.1,346.6 469.7,348.3" stroke="#0e7cf4" stroke-width="1.5" fill="none" stroke-linejoin="round"/>
<path d="M473,348.3 Q475.45,346.6 477.9,348.3" stroke="#0e7cf4" stroke-width="1.5" fill="none" stroke-linejoin="round"/>
<path d="M486,348.3 Q487.0,346.6 488,348.3" stroke="#0e7cf4" stroke-width="1.5" fill="none" stroke-linejoin="round"/>
<path d="M492.6,348.3 Q495.1,346.6 497.6,348.3" stroke="#0e7cf4" stroke-width="1.5" fill="none" stroke-linejoin="round"/>
<path d="M500.8,348.3 Q504.1,346.6 507.4,348.3" stroke="#0e7cf4" stroke-width="1.5" fill="none" stroke-linejoin="round"/>
<path d="M512.3,348.3 Q514.75,346.6 517.2,348.3" stroke="#0e7cf4" stroke-width="1.5" fill="none" stroke-linejoin="round"/>
<path d="M525.4,348.3 Q529.5,346.6 533.6,348.3" stroke="#0e7cf4" stroke-width="1.5" fill="none" stroke-linejoin="round"/>
<path d="M536,348.3 Q537.0,346.6 538,348.3" stroke="#0e7cf4" stroke-width="1.5" fill="none" stroke-linejoin="round"/>
</svg>
</body></html>
